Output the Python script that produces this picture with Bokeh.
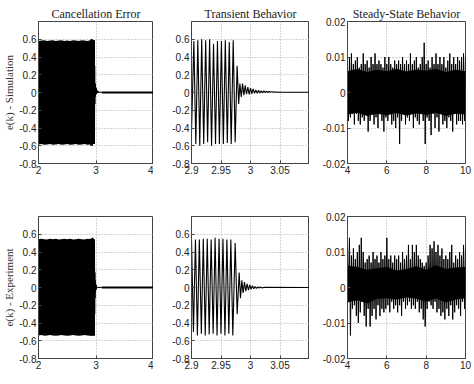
from bokeh.plotting import figure
from bokeh.layouts import column, row
from bokeh.models import FixedTicker, NumeralTickFormatter, Range1d
from bokeh.embed import file_html
from bokeh.resources import INLINE

# ---------------- data ----------------
col_titles = ["Cancellation Error", "Transient Behavior", "Steady-State Behavior"]
row_labels = ["e(k) - Simulation", "e(k) - Experiment"]

ce_ticks_x = [2, 3, 4]
tr_ticks_x = [2.9, 2.95, 3.0, 3.05]
st_ticks_x = [4, 6, 8, 10]
big_ticks_y = [-0.8, -0.6, -0.4, -0.2, 0.0, 0.2, 0.4, 0.6]
small_ticks_y = [-0.02, -0.01, 0.0, 0.01, 0.02]

# Cancellation error envelope (dense oscillation block before the switch-on)
ce_t = [2.00, 2.05, 2.10, 2.15, 2.20, 2.25, 2.30, 2.35, 2.40, 2.45, 2.50,
        2.55, 2.60, 2.65, 2.70, 2.75, 2.80, 2.85, 2.90, 2.95, 2.975]
ce_sim_hi = [0.58, 0.585, 0.59, 0.58, 0.585, 0.59, 0.58, 0.585, 0.59, 0.58, 0.585,
             0.58, 0.59, 0.585, 0.58, 0.59, 0.585, 0.58, 0.59, 0.585, 0.58]
ce_sim_lo = [-0.585, -0.58, -0.59, -0.585, -0.58, -0.59, -0.585, -0.58, -0.59, -0.585, -0.58,
             -0.59, -0.585, -0.58, -0.59, -0.585, -0.58, -0.59, -0.585, -0.58, -0.58]
ce_exp_hi = [0.545, 0.55, 0.545, 0.54, 0.55, 0.545, 0.55, 0.54, 0.545, 0.55, 0.545,
             0.55, 0.54, 0.545, 0.55, 0.545, 0.54, 0.55, 0.545, 0.55, 0.54]
ce_exp_lo = [-0.54, -0.535, -0.545, -0.54, -0.535, -0.54, -0.545, -0.54, -0.535, -0.54, -0.545,
             -0.54, -0.535, -0.54, -0.545, -0.54, -0.535, -0.54, -0.545, -0.54, -0.54]
ce_flat_t = [3.1, 4.0]
ce_flat_v = [0.0, 0.0]

# Transient: extremes of each half-cycle
tr_sim_t = [2.9000, 2.9040, 2.9073, 2.9107, 2.9140, 2.9173, 2.9207, 2.9240, 2.9273, 2.9307,
            2.9340, 2.9373, 2.9407, 2.9440, 2.9473, 2.9507, 2.9540, 2.9573, 2.9607, 2.9640,
            2.9673, 2.9707, 2.9740, 2.9773, 2.9800, 2.9820, 2.9843, 2.9865, 2.9888, 2.9910,
            2.9933, 2.9955, 2.9978, 3.0000, 3.0023, 3.0045, 3.0068, 3.0090, 3.0113, 3.0135,
            3.0158, 3.0180, 3.0203, 3.0225, 3.0248, 3.0270, 3.0293, 3.0315, 3.0338, 3.0360,
            3.0383, 3.0405, 3.0428, 3.0450, 3.0500, 3.1000]
tr_sim_v = [-0.45, 0.58, -0.58, 0.59, -0.60, 0.60, -0.58, 0.59, -0.56, 0.60,
            -0.60, 0.55, -0.58, 0.58, -0.58, 0.58, -0.58, 0.59, -0.57, 0.57,
            -0.58, 0.59, -0.56, 0.30, -0.13, 0.10, -0.05, 0.10, -0.03, 0.08,
            -0.02, 0.06, -0.02, 0.05, -0.015, 0.04, -0.01, 0.03, -0.01, 0.025,
            -0.005, 0.02, -0.005, 0.018, 0.0, 0.015, 0.0, 0.012, 0.002, 0.01,
            0.002, 0.008, 0.003, 0.006, 0.003, 0.003]
tr_exp_t = [2.9000, 2.9033, 2.9067, 2.9100, 2.9133, 2.9167, 2.9200, 2.9233, 2.9267, 2.9300,
            2.9333, 2.9367, 2.9400, 2.9433, 2.9467, 2.9500, 2.9533, 2.9567, 2.9600, 2.9633,
            2.9667, 2.9700, 2.9740, 2.9774, 2.9808, 2.9830, 2.9853, 2.9875, 2.9898, 2.9920,
            2.9943, 2.9965, 2.9988, 3.0010, 3.0033, 3.0055, 3.0078, 3.0100, 3.0123, 3.0145,
            3.0168, 3.0190, 3.0250, 3.1000]
tr_exp_v = [0.55, -0.50, 0.54, -0.54, 0.54, -0.52, 0.55, -0.54, 0.55, -0.53,
            0.54, -0.52, 0.56, -0.54, 0.55, -0.52, 0.55, -0.54, 0.54, -0.52,
            0.54, -0.54, 0.50, -0.30, 0.17, -0.12, 0.08, -0.06, 0.06, -0.04,
            0.04, -0.03, 0.03, -0.02, 0.02, -0.015, 0.012, -0.01, 0.008, -0.006,
            0.005, -0.004, 0.002, 0.0]

# Steady state: sampled noise record
st_t = [4.00, 4.05, 4.10, 4.15, 4.20, 4.25, 4.30, 4.35, 4.40, 4.45,
        4.50, 4.55, 4.60, 4.65, 4.70, 4.75, 4.80, 4.85, 4.90, 4.95,
        5.00, 5.05, 5.10, 5.15, 5.20, 5.25, 5.30, 5.35, 5.40, 5.45,
        5.50, 5.55, 5.60, 5.65, 5.70, 5.75, 5.80, 5.85, 5.90, 5.95,
        6.00, 6.05, 6.10, 6.15, 6.20, 6.25, 6.30, 6.35, 6.40, 6.45,
        6.50, 6.55, 6.60, 6.65, 6.70, 6.75, 6.80, 6.85, 6.90, 6.95,
        7.00, 7.05, 7.10, 7.15, 7.20, 7.25, 7.30, 7.35, 7.40, 7.45,
        7.50, 7.55, 7.60, 7.65, 7.70, 7.75, 7.80, 7.85, 7.90, 7.95,
        8.00, 8.05, 8.10, 8.15, 8.20, 8.25, 8.30, 8.35, 8.40, 8.45,
        8.50, 8.55, 8.60, 8.65, 8.70, 8.75, 8.80, 8.85, 8.90, 8.95,
        9.00, 9.05, 9.10, 9.15, 9.20, 9.25, 9.30, 9.35, 9.40, 9.45,
        9.50, 9.55, 9.60, 9.65, 9.70, 9.75, 9.80, 9.85, 9.90, 9.95, 10.00]
st_sim_v = [0.007, -0.008, 0.010, -0.007, 0.011, -0.006, 0.008, -0.009, 0.009, -0.006,
            0.010, -0.008, 0.007, -0.009, 0.008, -0.007, 0.011, -0.008, 0.008, -0.006,
            0.009, -0.011, 0.007, -0.008, 0.010, -0.006, 0.008, -0.009, 0.011, -0.007,
            0.008, -0.010, 0.009, -0.006, 0.008, -0.008, 0.007, -0.011, 0.010, -0.007,
            0.008, -0.008, 0.010, -0.006, 0.008, -0.009, 0.007, -0.008, 0.009, -0.010,
            0.008, -0.007, 0.009, -0.0145, 0.008, -0.008, 0.010, -0.006, 0.008, -0.009,
            0.009, -0.007, 0.008, -0.008, 0.011, -0.006, 0.008, -0.010, 0.009, -0.007,
            0.010, -0.008, 0.007, -0.009, 0.008, -0.006, 0.010, -0.008, 0.014, -0.0145,
            0.008, -0.007, 0.009, -0.008, 0.007, -0.012, 0.010, -0.006, 0.008, -0.010,
            0.011, -0.007, 0.008, -0.011, 0.010, -0.006, 0.008, -0.009, 0.010, -0.008,
            0.007, -0.010, 0.009, -0.007, 0.011, -0.008, 0.008, -0.011, 0.010, -0.006,
            0.008, -0.009, 0.010, -0.008, 0.009, -0.008, 0.010, -0.009, 0.011, -0.008, 0.010]
st_exp_v = [0.013, -0.004, 0.014, -0.0135, 0.009, -0.006, 0.011, -0.005, 0.008, -0.008,
            0.010, -0.010, 0.012, -0.007, 0.014, -0.004, 0.010, -0.008, 0.007, -0.011,
            0.008, -0.006, 0.009, -0.011, 0.007, -0.008, 0.010, -0.006, 0.008, -0.009,
            0.009, -0.005, 0.007, -0.008, 0.010, -0.006, 0.008, -0.007, 0.009, -0.006,
            0.014, -0.005, 0.008, -0.007, 0.009, -0.004, 0.007, -0.006, 0.009, -0.005,
            0.008, -0.007, 0.009, -0.005, 0.007, -0.008, 0.010, -0.004, 0.008, -0.006,
            0.009, -0.005, 0.012, -0.004, 0.008, -0.006, 0.012, -0.005, 0.010, -0.006,
            0.012, -0.004, 0.009, -0.007, 0.008, -0.006, 0.007, -0.009, 0.006, -0.011,
            0.007, -0.006, 0.009, -0.004, 0.012, -0.005, 0.011, -0.006, 0.013, -0.004,
            0.010, -0.007, 0.012, -0.006, 0.009, -0.008, 0.011, -0.007, 0.008, -0.009,
            0.009, -0.006, 0.008, -0.008, 0.010, -0.005, 0.012, -0.009, 0.007, -0.007,
            0.009, -0.005, 0.008, -0.006, 0.010, -0.008, 0.009, -0.004, 0.012, -0.006, 0.011]
st_core_t = [4.0, 4.5, 5.0, 5.5, 6.0, 6.5, 7.0, 7.5, 8.0, 8.5, 9.0, 9.5, 10.0]
st_sim_core_hi = [0.0060, 0.0066, 0.0058, 0.0064, 0.0060, 0.0067, 0.0059, 0.0065, 0.0061, 0.0066, 0.0058, 0.0064, 0.0060]
st_sim_core_lo = [-0.0062, -0.0057, -0.0066, -0.0060, -0.0064, -0.0058, -0.0065, -0.0059, -0.0063, -0.0057, -0.0066, -0.0060, -0.0062]
st_exp_core_hi = [0.0062, 0.0058, 0.0050, 0.0054, 0.0058, 0.0048, 0.0052, 0.0060, 0.0050, 0.0062, 0.0052, 0.0056, 0.0058]
st_exp_core_lo = [-0.0042, -0.0036, -0.0045, -0.0032, -0.0030, -0.0034, -0.0028, -0.0032, -0.0040, -0.0030, -0.0042, -0.0034, -0.0030]

# ---------------- styling helpers ----------------
SERIF = "Liberation Serif"
SANS = "Liberation Sans"
FRAME = "#444444"


def make_fig(width, height, xr, yr, xt, yt, title, ylabel, bl, bt, bb, br):
    kw = dict(width=width, height=height,
              x_range=Range1d(*xr), y_range=Range1d(*yr),
              output_backend="svg", toolbar_location=None,
              min_border_left=bl, min_border_top=bt,
              min_border_bottom=bb, min_border_right=br)
    if title:
        kw["title"] = title
    p = figure(**kw)
    if title:
        p.title.text_font = SERIF
        p.title.text_font_size = "12px"
        p.title.text_font_style = "normal"
        p.title.text_color = "#222222"
        p.title.align = "center"
        p.title.standoff = 2
        p.title.offset = 0
    else:
        p.title.visible = False
    p.outline_line_color = FRAME
    p.outline_line_width = 1
    p.background_fill_color = "white"
    p.border_fill_color = "white"
    for ax in (p.xaxis[0], p.yaxis[0]):
        ax.major_tick_in = 3
        ax.major_tick_out = 0
        ax.minor_tick_line_color = None
        ax.axis_line_color = FRAME
        ax.major_tick_line_color = FRAME
        ax.major_label_text_font = SANS
        ax.major_label_text_font_size = "10px"
        ax.major_label_text_color = "#222222"
        ax.major_label_standoff = 2
        ax.formatter = NumeralTickFormatter(format="0.[00]")
    p.xaxis[0].ticker = FixedTicker(ticks=xt)
    p.yaxis[0].ticker = FixedTicker(ticks=yt)
    if ylabel:
        p.yaxis[0].axis_label = ylabel
        p.yaxis[0].axis_label_text_font = SERIF
        p.yaxis[0].axis_label_text_font_size = "11px"
        p.yaxis[0].axis_label_text_font_style = "normal"
        p.yaxis[0].axis_label_text_color = "#333333"
        p.yaxis[0].axis_label_standoff = 1
    for g in (p.xgrid[0], p.ygrid[0]):
        g.grid_line_color = "#a8a8a8"
        g.grid_line_dash = "1 2"
        g.grid_line_width = 1
    return p


# ---------------- figures ----------------
W1, W2, W3 = 153, 156, 165
H1, H2 = 190, 194

figs = []
for r in range(2):
    top = 21 if r == 0 else 26
    bot = 27 if r == 0 else 26
    hh = H1 if r == 0 else H2
    ce_hi = ce_sim_hi if r == 0 else ce_exp_hi
    ce_lo = ce_sim_lo if r == 0 else ce_exp_lo
    tr_t = tr_sim_t if r == 0 else tr_exp_t
    tr_v = tr_sim_v if r == 0 else tr_exp_v
    st_v = st_sim_v if r == 0 else st_exp_v
    core_hi = st_sim_core_hi if r == 0 else st_exp_core_hi
    core_lo = st_sim_core_lo if r == 0 else st_exp_core_lo

    t1 = col_titles[0] if r == 0 else None
    t2 = col_titles[1] if r == 0 else None
    t3 = col_titles[2] if r == 0 else None

    p1 = make_fig(W1, hh, (2, 4), (-0.8, 0.8), ce_ticks_x, big_ticks_y, t1,
                  row_labels[r], 35, top, bot, 0)
    p1.varea(x=ce_t, y1=ce_lo, y2=ce_hi, fill_color="black", fill_alpha=1)
    p1.line(tr_t, tr_v, line_color="black", line_width=1)
    p1.line(ce_flat_t, ce_flat_v, line_color="black", line_width=2)

    p2 = make_fig(W2, hh, (2.9, 3.1), (-0.8, 0.8), tr_ticks_x, big_ticks_y, t2,
                  None, 38, top, bot, 0)
    p2.line(tr_t, tr_v, line_color="black", line_width=1.1)

    p3 = make_fig(W3, hh, (4, 10), (-0.02, 0.02), st_ticks_x, small_ticks_y, t3,
                  None, 38, top, bot, 9)
    p3.varea(x=st_core_t, y1=core_lo, y2=core_hi, fill_color="black", fill_alpha=1)
    p3.line(st_t, st_v, line_color="black", line_width=1)

    figs.append(row(p1, p2, p3))

layout = column(*figs)

open("out.html", "w").write(file_html(layout, INLINE))
